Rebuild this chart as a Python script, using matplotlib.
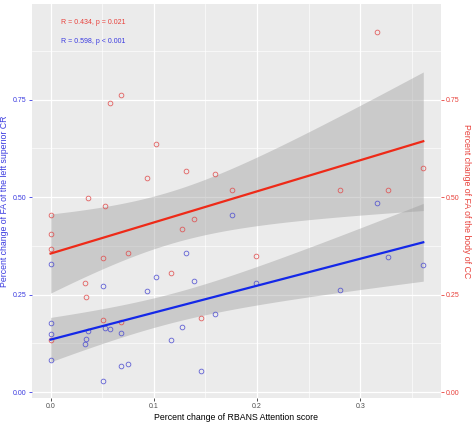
import numpy as np
import matplotlib
matplotlib.use('Agg')
import matplotlib.pyplot as plt
from matplotlib.ticker import MultipleLocator, FormatStrFormatter

plt.rcParams['font.family'] = ['Liberation Sans', 'DejaVu Sans']

##########################################################
# Data (one entry per subject)
attention = [0.0, 0.0, 0.0, 0.0, 0.033, 0.034, 0.036, 0.051, 0.051, 0.053,
             0.058, 0.068, 0.068, 0.075, 0.093, 0.102, 0.117, 0.127, 0.131,
             0.139, 0.146, 0.159, 0.176, 0.199, 0.280, 0.316, 0.327, 0.361]
fa_cr = [0.328, 0.178, 0.150, 0.082, 0.123, 0.137, 0.157, 0.273, 0.029, 0.165,
         0.162, 0.152, 0.067, 0.072, 0.260, 0.296, 0.134, 0.166, 0.357,
         0.285, 0.055, 0.201, 0.454, 0.281, 0.261, 0.485, 0.347, 0.325]
fa_cc = [0.454, 0.406, 0.367, 0.134, 0.279, 0.243, 0.498, 0.344, 0.185, 0.477,
         0.742, 0.762, 0.180, 0.356, 0.549, 0.636, 0.305, 0.419, 0.567,
         0.444, 0.190, 0.560, 0.518, 0.350, 0.519, 0.922, 0.519, 0.574]
label_cc = 'R = 0.434, p = 0.021'
label_cr = 'R = 0.598, p < 0.001'

RED_PT, RED_LN = '#E04848', '#EE2A18'
BLUE_PT, BLUE_LN = '#4848D0', '#1428E8'
T_CRIT = 2.0555  # t(0.975, df=26)


def smooth(ax, x, y, color):
    x = np.asarray(x)
    y = np.asarray(y)
    n = len(x)
    b, a = np.polyfit(x, y, 1)
    xs = np.linspace(x.min(), x.max(), 80)
    fit = a + b * xs
    resid = y - (a + b * x)
    s = np.sqrt(np.sum(resid ** 2) / (n - 2))
    se = s * np.sqrt(1.0 / n + (xs - x.mean()) ** 2 / np.sum((x - x.mean()) ** 2))
    ax.fill_between(xs, fit - T_CRIT * se, fit + T_CRIT * se,
                    color='#999999', alpha=0.4, lw=0, zorder=2)
    ax.plot(xs, fit, color=color, lw=1.6, zorder=4)


##########################################################
fig = plt.figure(figsize=(4.74, 4.24), dpi=100)
ax = fig.add_axes([0.0675, 0.0613, 0.8625, 0.9293])
ax.set_facecolor('#EBEBEB')
for sp in ax.spines.values():
    sp.set_visible(False)

ax.set_xlim(-0.018, 0.378)
ax.set_ylim(-0.015, 0.995)
ax.xaxis.set_major_locator(MultipleLocator(0.1))
ax.xaxis.set_minor_locator(MultipleLocator(0.05))
ax.yaxis.set_major_locator(MultipleLocator(0.25))
ax.yaxis.set_minor_locator(MultipleLocator(0.125))
ax.xaxis.set_major_formatter(FormatStrFormatter('%.1f'))
ax.yaxis.set_major_formatter(FormatStrFormatter('%.2f'))
ax.grid(which='major', color='white', lw=0.9, zorder=0)
ax.grid(which='minor', color='white', lw=0.45, zorder=0)
ax.set_axisbelow(True)
ax.tick_params(which='minor', length=0)
ax.tick_params(axis='x', which='major', length=2.2, width=0.6, color='#333333',
               labelsize=5, labelcolor='#4D4D4D', pad=1.5)
ax.tick_params(axis='y', which='major', length=2.2, width=0.6, color='#3A3AE0',
               labelsize=5, labelcolor='#3A3AE0', pad=1.5)

smooth(ax, attention, fa_cr, BLUE_LN)
smooth(ax, attention, fa_cc, RED_LN)
ax.plot(attention, fa_cr, 'o', mfc='none', mec=BLUE_PT, ms=3.4, mew=0.6,
        alpha=0.85, zorder=3)
ax.plot(attention, fa_cc, 'o', mfc='none', mec=RED_PT, ms=3.4, mew=0.6,
        alpha=0.85, zorder=3)

ax.text(0.010, 0.948, label_cc, color='#E8403A', fontsize=5, va='center', ha='left')
ax.text(0.010, 0.898, label_cr, color='#3A3AE0', fontsize=5, va='center', ha='left')

ax.set_xlabel('Percent change of RBANS Attention score', fontsize=6.3,
              color='black', labelpad=2)
ax.set_ylabel('Percent change of FA of the left superior CR', fontsize=6.3,
              color='#3A3AE0', labelpad=3)

# secondary axis on the right (same scale)
ax2 = ax.twinx()
for sp in ax2.spines.values():
    sp.set_visible(False)
ax2.set_ylim(ax.get_ylim())
ax2.yaxis.set_major_locator(MultipleLocator(0.25))
ax2.yaxis.set_minor_locator(MultipleLocator(0.125))
ax2.yaxis.set_major_formatter(FormatStrFormatter('%.2f'))
ax2.tick_params(which='minor', length=0)
ax2.tick_params(axis='y', which='major', length=2.2, width=0.6, color='#E8403A',
                labelsize=5, labelcolor='#E8403A', pad=1.5)
ax2.set_ylabel('Percent change of FA of the body of CC', fontsize=6.3,
               color='#E8403A', rotation=270, labelpad=8)

plt.savefig('out.png', dpi=100)
